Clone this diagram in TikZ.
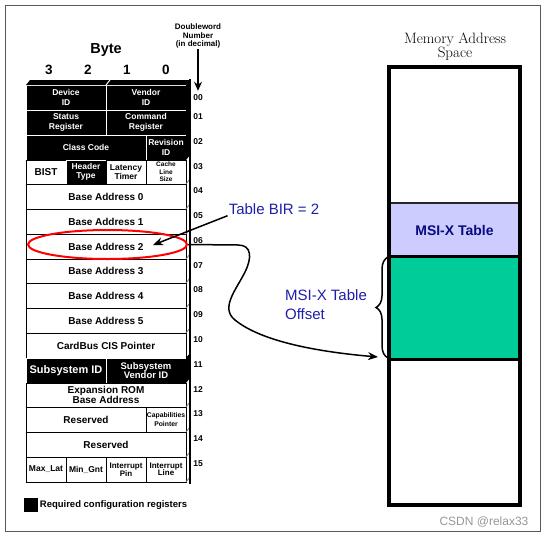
\documentclass[tikz,border=0pt]{standalone}
\usepackage{fontspec}
\newfontfamily\arialfont{Liberation Sans}
\usetikzlibrary{positioning,arrows.meta,shapes.geometric,decorations.pathreplacing}

\newcommand\fsz[2]{\fontsize{#1}{#2}\selectfont}
\newcommand\tblfont{\arialfont\bfseries}

\definecolor{birblue}{RGB}{30,30,170}
\definecolor{navytxt}{RGB}{10,10,130}
\definecolor{lavender}{RGB}{204,204,255}
\definecolor{offgreen}{RGB}{0,204,153}
\definecolor{wmgrey}{RGB}{150,150,150}
\definecolor{framegrey}{RGB}{90,90,90}

\tikzset{
  regcell/.style={fill=black, draw=white, line width=1pt},
  plaincell/.style={fill=white, draw=black, line width=0.8pt},
  regtxt/.style={text=white, font={\tblfont\fsz{8.5}{9.5}}, align=center, inner sep=0pt},
  celltxt/.style={text=black, font={\tblfont\fsz{10}{10}}, align=center, inner sep=0pt},
  dwlbl/.style={font={\tblfont\fsz{8.5}{8.5}}, inner sep=0pt},
  bytenum/.style={font={\tblfont\fsz{13.5}{13.5}}},
  bluelbl/.style={text=birblue, font={\arialfont\fsz{15}{19}}, inner sep=1pt},
  ptrarrow/.style={line width=1.5pt, -{Stealth[length=10pt,width=8pt]}}
}

\begin{document}
\begin{tikzpicture}[x=1pt,y=-1pt]
\useasboundingbox (0,0) rectangle (545,538);
% outer frame
\draw[framegrey, line width=1pt] (5,5) rectangle (540,531);

% Header of the configuration space
\node[font={\tblfont\fsz{14.5}{14.5}}] (byte) at (106,50) {Byte};
\node[bytenum] (b3) at (49,70) {3};
\node[bytenum] (b2) at (88,70) {2};
\node[bytenum] (b1) at (127,70) {1};
\node[bytenum] (b0) at (166,70) {0};
\node[font={\tblfont\fsz{8}{8.5}}, align=center, inner sep=1pt] (dwnum) at (198,36) {Doubleword\\Number\\(in decimal)};

% Row 00 - 03
\draw[regcell] (26,85) rectangle (106,110) node[midway,regtxt] (devid) {Device\\ID};
\draw[regcell] (106,85) rectangle (186,110) node[midway,regtxt] (venid) {Vendor\\ID};
\draw[regcell] (26,110) rectangle (106,135) node[midway,regtxt] (status) {Status\\Register};
\draw[regcell] (106,110) rectangle (186,135) node[midway,regtxt] (command) {Command\\Register};
\draw[regcell] (26,135) rectangle (146,160) node[midway,regtxt] (classcode) {Class Code};
\draw[regcell] (146,135) rectangle (186,160) node[midway,regtxt] (revid) {Revision\\ID};
\draw[plaincell] (26,160) rectangle (66,184) node[midway,celltxt] (bist) {BIST};
\draw[regcell] (66,160) rectangle (106,184) node[midway,regtxt] (hdrtype) {Header\\Type};
\draw[plaincell] (106,160) rectangle (146,184) node[midway,celltxt,font={\tblfont\fsz{8.5}{9}}] (lattimer) {Latency\\Timer};
\draw[plaincell] (146,160) rectangle (186,184) node[midway,celltxt,font={\tblfont\fsz{6.5}{7.5}}] (cacheline) {Cache\\Line\\Size};

% Base address registers
\draw[plaincell] (26,184) rectangle (186,209) node[midway,celltxt] (bar0) {Base Address 0};
\draw[plaincell] (26,209) rectangle (186,234) node[midway,celltxt] (bar1) {Base Address 1};
\draw[plaincell] (26,234) rectangle (186,259) node[midway,celltxt] (bar2) {Base Address 2};
\draw[plaincell] (26,259) rectangle (186,283) node[midway,celltxt] (bar3) {Base Address 3};
\draw[plaincell] (26,283) rectangle (186,308) node[midway,celltxt] (bar4) {Base Address 4};
\draw[plaincell] (26,308) rectangle (186,333) node[midway,celltxt] (bar5) {Base Address 5};

% Row 10 - 15
\draw[plaincell] (26,333) rectangle (186,358) node[midway,celltxt] (cardbus) {CardBus CIS Pointer};
\draw[regcell] (26,358) rectangle (106,383) node[midway,regtxt,font={\tblfont\fsz{11}{11}}] (subid) {Subsystem ID};
\draw[regcell] (106,358) rectangle (186,383) node[midway,regtxt,font={\tblfont\fsz{9.5}{9}}] (subvenid) {Subsystem\\Vendor ID};
\draw[plaincell] (26,383) rectangle (186,407) node[midway,celltxt,font={\tblfont\fsz{10}{10}}] (exprom) {Expansion ROM\\Base Address};
\draw[plaincell] (26,407) rectangle (146,432) node[midway,celltxt] (rsvd1) {Reserved};
\draw[plaincell] (146,407) rectangle (186,432) node[midway,celltxt,font={\tblfont\fsz{6.8}{9}}] (capptr) {Capabilities\\Pointer};
\draw[plaincell] (26,432) rectangle (186,457) node[midway,celltxt] (rsvd2) {Reserved};
\draw[plaincell] (26,457) rectangle (66,482) node[midway,celltxt,font={\tblfont\fsz{8.5}{8}}] (maxlat) {Max\_Lat};
\draw[plaincell] (66,457) rectangle (106,482) node[midway,celltxt,font={\tblfont\fsz{8.5}{8}}] (mingnt) {Min\_Gnt};
\draw[plaincell] (106,457) rectangle (146,482) node[midway,celltxt,font={\tblfont\fsz{8}{7.5}}] (intpin) {Interrupt\\Pin};
\draw[plaincell] (146,457) rectangle (186,482) node[midway,celltxt,font={\tblfont\fsz{8}{7.5}}] (intline) {Interrupt\\Line};

% 3D top and side of the table
\fill[black] (26,85) -- (30,80) -- (190,80) -- (186,85) -- cycle;
\draw[white, line width=1pt] (106,85) -- (110,80);
\fill[black] (186,85) -- (190,80) -- (190,155) -- (186,160) -- cycle;
\fill[black] (186,358) -- (190,353) -- (190,378) -- (186,383) -- cycle;
\foreach \yb in {184,209,234,259,283,308,333,407,432,457,482}
  \draw[gray, line width=0.8pt] (186,\yb) -- (190,\yb-5);
\draw[line width=1.8pt] (190,79) -- (190,484);

% Doubleword numbers
\node[dwlbl] (n00) at (198,98) {00};
\node[dwlbl] (n01) at (198,117) {01};
\node[dwlbl] (n02) at (198,142) {02};
\node[dwlbl] (n03) at (198,167) {03};
\node[dwlbl] (n04) at (198,191) {04};
\node[dwlbl] (n05) at (198,216) {05};
\node[dwlbl] (n06) at (198,241) {06};
\node[dwlbl] (n07) at (198,266) {07};
\node[dwlbl] (n08) at (198,290) {08};
\node[dwlbl] (n09) at (198,315) {09};
\node[dwlbl] (n10) at (198,340) {10};
\node[dwlbl] (n11) at (198,365) {11};
\node[dwlbl] (n12) at (198,390) {12};
\node[dwlbl] (n13) at (198,414) {13};
\node[dwlbl] (n14) at (198,439) {14};
\node[dwlbl] (n15) at (198,464) {15};
\draw[line width=2pt, -{Stealth[length=9pt,width=8pt]}, shorten >=4pt] (dwnum) -- (n00);

% Legend
\node[fill=black, minimum size=14pt, inner sep=0pt] (legbox) at (30.5,505) {};
\node[right=2pt of legbox, font={\tblfont\fsz{9.5}{9.5}}, inner sep=0pt] (legtxt) {Required configuration registers};

% Memory address space
\node[font=\fsz{15}{14}, align=center] (memhdr) at (455,47) {Memory Address\\Space};
\fill[lavender] (389,203) rectangle (520,256);
\node[text=navytxt, font={\tblfont\fsz{14}{14}}] (msitab) at (454.5,230) {MSI-X Table};
\fill[offgreen] (389,256) rectangle (520,359);
\draw[line width=2.5pt, black!85] (389,203) -- (520,203);
\draw[line width=3pt] (389,256) -- (520,256);
\draw[line width=3pt] (389,359) -- (520,359);
\draw[line width=3.5pt] (389,67) rectangle (520,505);

% MSI-X pointers
\node[draw=red, line width=2pt, ellipse, minimum width=159pt, minimum height=29pt] (bar2ring) at (107.5,244.5) {};
\node[bluelbl] (bir) at (274,209) {Table BIR = 2};
\coordinate (birtip) at (153,245);
\draw[ptrarrow] (bir.south west) -- (birtip);
\node[bluelbl, align=left] (offlbl) at (326,305) {MSI-X Table\\Offset};
\draw[decorate, decoration={brace, amplitude=12pt}, line width=1.5pt] (388,358) -- (388,257);
\coordinate (offtip) at (378,357);
\draw[ptrarrow] (bar2ring.east) -- (238,245) .. controls (252,245) and (252,258) .. (245,272)
  .. controls (236,290) and (220,308) .. (235,320) .. controls (262,342) and (320,352) .. (offtip);

% watermark
\node[text=wmgrey, font={\arialfont\fsz{12}{12}}] (wm) at (484,522) {CSDN @relax33};
\end{tikzpicture}
\end{document}
